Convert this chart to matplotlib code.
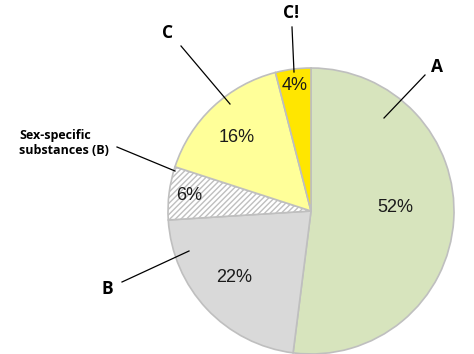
import matplotlib
matplotlib.use("Agg")
import matplotlib.pyplot as plt

labels = ["A", "B", "Sex-specific\nsubstances (B)", "C", "C!"]
values = [52, 22, 6, 16, 4]
pct_labels = ["52%", "22%", "6%", "16%", "4%"]
colors = ["#d7e4bd", "#d9d9d9", "#ffffff", "#ffff99", "#ffe600"]
hatches = [None, None, "//////", None, None]

W, H = 474, 354
plt.rcParams["hatch.linewidth"] = 1.0
fig = plt.figure(figsize=(W / 100, H / 100), dpi=100)
ax = fig.add_axes([0, 0, 1, 1])

cx, cy, r = 311, 211, 143
wedges, _ = ax.pie(values, colors=colors, startangle=90, counterclock=False,
                   center=(cx, H - cy), radius=r, frame=True,
                   wedgeprops=dict(edgecolor="#bfbfbf", linewidth=1.2))
ax.set_xlim(0, W)
ax.set_ylim(0, H)
ax.set_aspect("equal")
ax.axis("off")
for w, h in zip(wedges, hatches):
    if h:
        w.set_hatch(h)

def P(x, y):
    return (x, H - y)

pct_pos = [(395, 207), (234, 277), (189, 195), (237, 137), (295, 86)]
for t, (x, y) in zip(pct_labels, pct_pos):
    ax.text(*P(x, y), t, ha="center", va="center", fontsize=13,
            family="Liberation Sans", color="#1a1a1a")

bold = dict(family="Open Sans", fontweight="bold", color="black")
ax.text(*P(437, 67), labels[0], ha="center", va="center", fontsize=12.5, **bold)
ax.text(*P(107, 289), labels[1], ha="center", va="center", fontsize=12.5, **bold)
ax.text(*P(168, 33), labels[3], ha="center", va="center", fontsize=12.5, **bold)
ax.text(*P(291, 13), labels[4], ha="center", va="center", fontsize=12.5, **bold)
ax.text(*P(19, 143), labels[2], ha="left", va="center", fontsize=9,
        linespacing=1.3, **bold)

leaders = [((425, 75), (384, 118)), ((122, 282), (189, 251)),
           ((181, 46), (230, 104)), ((292, 27), (294, 72)),
           ((117, 147), (175, 171))]
for (x0, y0), (x1, y1) in leaders:
    ax.plot([x0, x1], [H - y0, H - y1], color="black", lw=0.9)

fig.savefig("out.png", dpi=100)
